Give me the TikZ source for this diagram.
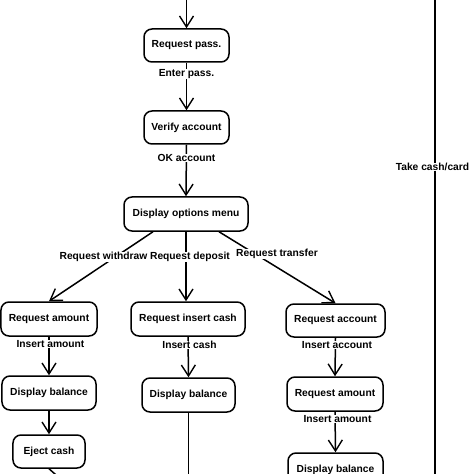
\documentclass[tikz,border=0pt]{standalone}
\usepackage{fontspec}
\setmainfont{Liberation Sans}
\usetikzlibrary{arrows.meta,calc}
\begin{document}
\begin{tikzpicture}[x=1bp,y=-1bp,
  every node/.style={font=\bfseries\fontsize{10.3}{12}\selectfont, inner sep=0pt},
  act/.style={draw, line width=1.5bp, rounded corners=8bp, minimum height=34bp},
  lbl/.style={fill=white, inner sep=0.6bp},
  flow/.style={line width=1.5bp, -{Straight Barb[length=11bp,width=14bp,line width=1.4bp]}},
  plain/.style={line width=1.5bp}]
\useasboundingbox (0,0) rectangle (474,474);
\clip (0,0) rectangle (474,474);
\fill[white] (0,0) rectangle (474,474);
% activities
\node[act, minimum width=85bp, minimum height=33bp] (pass) at (186.5,45.5) {Request pass.};
\node[act, minimum width=85bp, minimum height=33bp] (verify) at (186.5,127.5) {Verify account};
\node[act, minimum width=124bp] (menu) at (186,214) {Display options menu};
\node[act, minimum width=96bp] (ramtA) at (49,319) {Request amount};
\node[act, minimum width=114bp] (rins) at (188,319) {Request insert cash};
\node[act, minimum width=99bp, minimum height=33bp] (racc) at (335.5,320.5) {Request account};
\node[act, minimum width=94bp] (dbA) at (49,393) {Display balance};
\node[act, minimum width=93bp] (dbB) at (188.5,395) {Display balance};
\node[act, minimum width=96bp] (ramtC) at (335,394) {Request amount};
\node[act, minimum width=72bp, minimum height=33bp] (eject) at (49,451.5) {Eject cash};
\node[act, minimum width=95bp] (dbC) at (335.5,470) {Display balance};
% free ends
\coordinate (topin) at (186.5,-5);
\coordinate (ejectout) at (64,482);
\coordinate (dbBout) at (188.5,482);
\coordinate (rtop) at (435,-5);
\coordinate (rbot) at (435,482);
% connectors
\draw[flow] (topin) -- (pass.north);
\draw[flow] (pass.south) -- (verify.north);
\draw[flow] (verify.south) -- (menu.north);
\draw[flow] ([xshift=-33bp]menu.south) -- (ramtA.north);
\draw[flow] (menu.south) -- (menu.south |- rins.north);
\draw[flow] ([xshift=33bp]menu.south) -- (racc.north);
\draw[flow] (ramtA.south) -- (dbA.north);
\draw[flow] (rins.south) -- (dbB.north);
\draw[flow] (racc.south) -- (ramtC.north);
\draw[flow] (ramtC.south) -- (dbC.north);
\draw[flow] (dbA.south) -- (eject.north);
\draw[plain] (eject.south) -- (ejectout);
\draw[plain] (dbB.south) -- (dbBout);
\draw[plain] (rtop) -- (rbot);
% labels
\node[lbl] (l1) at (186.5,74) {Enter pass.};
\node[lbl] (l2) at (186.5,158) {OK account};
\node[lbl] (l3) at (103.5,257) {Request withdraw};
\node[lbl] (l4) at (190,257) {Request deposit};
\node[lbl] (l5) at (277,254) {Request transfer};
\node[lbl] (l6) at (50.5,344) {Insert amount};
\node[lbl] (l7) at (189.5,345) {Insert cash};
\node[lbl] (l8) at (337,345) {Insert account};
\node[lbl] (l9) at (337.5,419) {Insert amount};
\node[lbl] (l10) at (432.5,167) {Take cash/card};
\end{tikzpicture}
\end{document}
